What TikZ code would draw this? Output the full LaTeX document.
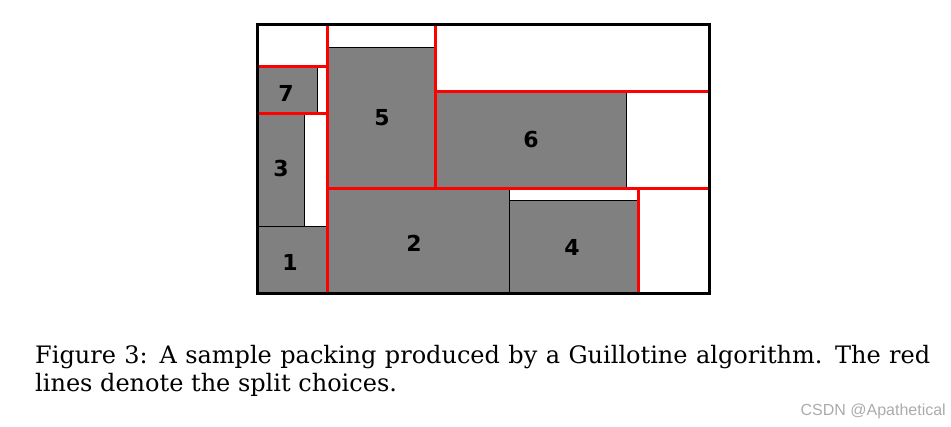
\documentclass[tikz,border=0pt]{standalone}
\usepackage{fontspec}
\newfontfamily\digitfont{DejaVu Sans}
\newfontfamily\markfont{Liberation Sans}
\newfontfamily\capserif{DejaVu Serif}
\newcommand\capfont{\capserif\fontsize{24}{28}\selectfont}

\begin{document}
\begin{tikzpicture}[x=1pt,y=-1pt,
    item/.style={fill=gray,draw=black,line width=1pt},
    cut/.style={draw=red,line width=3pt},
    num/.style={font=\digitfont\bfseries\fontsize{22}{22}\selectfont},
    caption/.style={font=\capfont,anchor=base west,inner sep=0pt}]
  \useasboundingbox (0,0) rectangle (951,427);
  \draw[item] (257,227) rectangle (327,294);
  \draw[item] (327,189) rectangle (509,294);
  \draw[item] (257,114) rectangle (304,227);
  \draw[item] (509,201) rectangle (638,294);
  \draw[item] (327,48) rectangle (434,189);
  \draw[item] (435,92) rectangle (626,189);
  \draw[item] (257,67) rectangle (317,114);
  \node[num] (n1) at (290,262) {1};
  \node[num] (n2) at (414,243) {2};
  \node[num] (n3) at (281,168) {3};
  \node[num] (n4) at (572,247) {4};
  \node[num] (n5) at (382,118) {5};
  \node[num] (n6) at (531,140) {6};
  \node[num] (n7) at (286,93) {7};
  \draw[cut] (327,25) -- (327,294);
  \draw[cut] (257,67) -- (327,67);
  \draw[cut] (257,114) -- (327,114);
  \draw[cut] (435,25) -- (435,189);
  \draw[cut] (435,92) -- (709,92);
  \draw[cut] (327,189) -- (709,189);
  \draw[cut] (638,189) -- (638,294);
  \draw[line width=3pt] (257,25) rectangle (709,294);
  \node[caption] (cap1) at (35,364)
    {\makebox[895pt][s]{Figure 3: A sample packing produced by a Guillotine algorithm. The red}};
  \node[caption] (cap2) at (35,392) {lines denote the split choices.};
  \node[font=\markfont\fontsize{16}{16}\selectfont,text=black!33,
    anchor=base east,inner sep=0pt] (mark) at (946,416) {CSDN @Apathetical};
\end{tikzpicture}
\end{document}
